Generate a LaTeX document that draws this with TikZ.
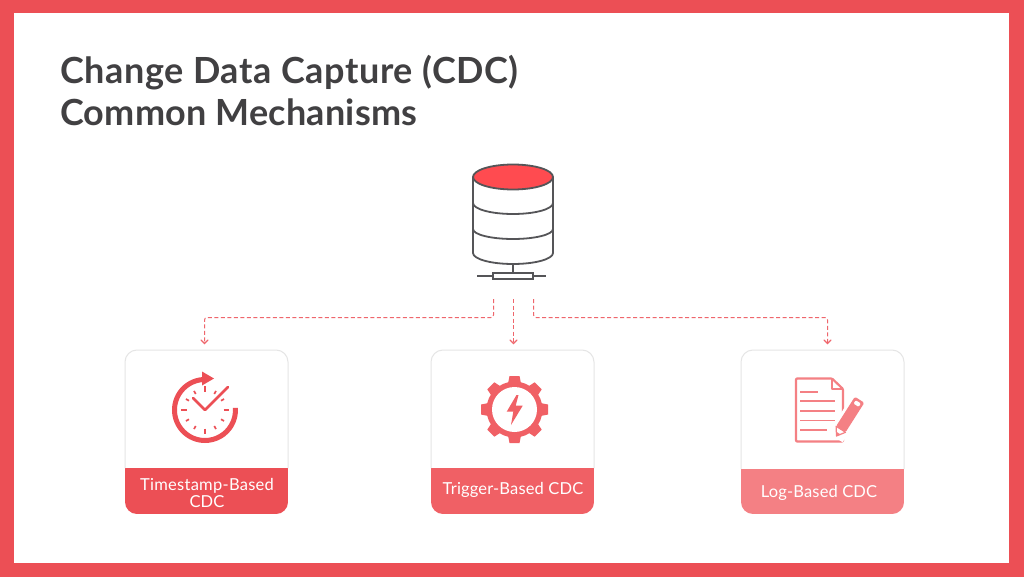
\documentclass[tikz,border=0pt]{standalone}
\usepackage{fontspec}
\setmainfont{Lato}
\definecolor{frame}{HTML}{EC4F55}
\definecolor{ink}{HTML}{414042}
\definecolor{dbgray}{HTML}{555558}
\definecolor{dbred}{HTML}{FF4B50}
\definecolor{dashc}{HTML}{EF666C}
\definecolor{cA}{HTML}{EC4F55}
\definecolor{cB}{HTML}{F06065}
\definecolor{cC}{HTML}{F48084}
\tikzset{
  titletext/.style={anchor=base west,inner sep=0,font=\fontsize{36}{36}\selectfont\bfseries,text=ink},
  bandtext/.style={anchor=base,inner sep=0,text=white,font=\fontsize{16.5}{16.5}\selectfont\addfontfeatures{LetterSpace=1}},
  dbline/.style={draw=dbgray,line width=1.8pt},
  conn/.style={draw=dashc,line width=1pt,dash pattern=on 4pt off 2.5pt,rounded corners=2.5pt},
  chev/.style={draw=dashc,line width=1.1pt,line cap=round},
}
\newcommand{\card}[3]{%
  \begin{scope}
    \path[clip] (#1,350) [rounded corners=12pt] -- (#1+163,350) -- (#1+163,514) -- (#1,514) -- cycle;
    \fill[#3] (#1,#2) rectangle (#1+163,514);
  \end{scope}
  \draw[draw=black!10,line width=1pt,rounded corners=12pt] (#1,#2) -- (#1,350) -- (#1+163,350) -- (#1+163,#2);
}
\begin{document}
\begin{tikzpicture}[x=1pt,y=-1pt]
\useasboundingbox (0,0) rectangle (1024,577);
\fill[frame] (0,0) rectangle (1024,577);
\fill[white] (14,13) rectangle (1009,563);
\node[titletext] (t1) at (60,84) {\addfontfeatures{LetterSpace=1.7}Change Data Capture (CDC)};
\node[titletext] (t2) at (60,126) {\addfontfeatures{LetterSpace=0.6}Common Mechanisms};
% database
\draw[dbline] (473,177) -- (473,253) arc[start angle=180,end angle=0,x radius=40,y radius=11] -- (553,177);
\draw[dbline,fill=dbred] (513,177) ellipse[x radius=40,y radius=12.5];
\draw[dbline] (473,203) arc[start angle=180,end angle=0,x radius=40,y radius=11];
\draw[dbline] (473,229) arc[start angle=180,end angle=0,x radius=40,y radius=10];
\draw[dbline] (513,264) -- (513,273);
\draw[dbline,line width=1.4pt] (493,273) rectangle (533,279);
\draw[dbline,line width=1.4pt] (477,276) -- (493,276) (533,276) -- (546,276);
% connectors
\coordinate (sl) at (493.5,299); \coordinate (sm) at (513.5,299); \coordinate (sr) at (533.5,299);
\coordinate (kl) at (493.5,317.5); \coordinate (kr) at (533.5,317.5);
\coordinate (jl) at (204.5,317.5); \coordinate (jr) at (827.5,317.5);
\coordinate (el) at (204.5,343.5); \coordinate (em) at (513.5,343.5); \coordinate (er) at (827.5,343.5);
\draw[conn] (sl) -- (kl) -- (jl) -- (el);
\draw[conn] (sm) -- (em);
\draw[conn] (sr) -- (kr) -- (jr) -- (er);
\foreach \n in {el,em,er}{
  \draw[chev] ([xshift=-3.5pt,yshift=3.5pt]\n) -- (\n) -- ([xshift=3.5pt,yshift=3.5pt]\n);
}
% cards
\card{125}{468}{cA}
\card{431}{468}{cB}
\card{741}{469}{cC}
\node[bandtext] (la) at (207,490) {\addfontfeatures{LetterSpace=1.6}Timestamp-Based};
\node[bandtext] (lb) at (207,507) {CDC};
\node[bandtext] (lc) at (513,494.5) {Trigger-Based CDC};
\node[bandtext] (ld) at (819,497.5) {Log-Based CDC};
% clock
\draw[cA,line width=5pt] (205,379.5) arc[start angle=-90,end angle=-364,radius=30.5];
\fill[cA] (214,378.5) -- (202,371.5) -- (202,385.5) -- cycle;
\foreach \a/\ro in {0/24,30/22,60/22,90/24,120/22,150/22,180/24,210/22,240/22,270/24,300/22,330/22}{
  \draw[cA,line width=1.7pt] (205,410) ++(\a:18.5) -- ++(\a:\ro-18.5);
}
\draw[cA,line width=2.8pt,line cap=round,line join=round] (193,398) -- (205,410) -- (228,387);
% gear
\begin{scope}[shift={(514.5,409.5)}]
  \fill[cB] (0,0) circle[radius=28];
  \foreach \a in {0,45,...,315}{
    \fill[cB,rotate=\a] (26,-6.5) -- (33.5,-5) -- (33.5,5) -- (26,6.5) -- cycle;
  }
  \fill[white] (0,0) circle[radius=22.5];
\end{scope}
\fill[cB] (516.5,395) -- (506.7,411.7) -- (513.3,411.7) -- (511,425) -- (522.7,405.7) -- (515.7,405.7) -- (518.5,395) -- cycle;
% document
\draw[cC,line width=2.2pt,line join=round,rounded corners=1pt] (832,378.5) -- (796,378.5) -- (796,441.5) -- (843,441.5) -- (843,389) -- cycle;
\draw[cC,line width=1.8pt,line join=round] (832,378.5) -- (832,389) -- (843,389);
\foreach \y/\e in {392/818,401/835,411/835,420.5/835,430/827}{
  \draw[cC,line width=1.9pt] (800,\y) -- (\e,\y);
}
% pencil
\begin{scope}[shift={(836.5,436)},rotate=57.5]
  \fill[white] (-2,-8.5) rectangle (44,8.5);
  \fill[cC,rounded corners=1.5pt] (8,-5.6) -- (43,-5.6) -- (43,5.6) -- (8,5.6) -- cycle;
  \draw[cC,line width=1.2pt,fill=white,line join=round] (0,0) -- (8,-5.6) -- (8,5.6) -- cycle;
  \fill[cC] (0,0) -- (3.5,-2.2) -- (3.5,2.2) -- cycle;
  \fill[white,rounded corners=1pt] (36.5,-3) rectangle (40.5,3);
\end{scope}
\end{tikzpicture}
\end{document}
